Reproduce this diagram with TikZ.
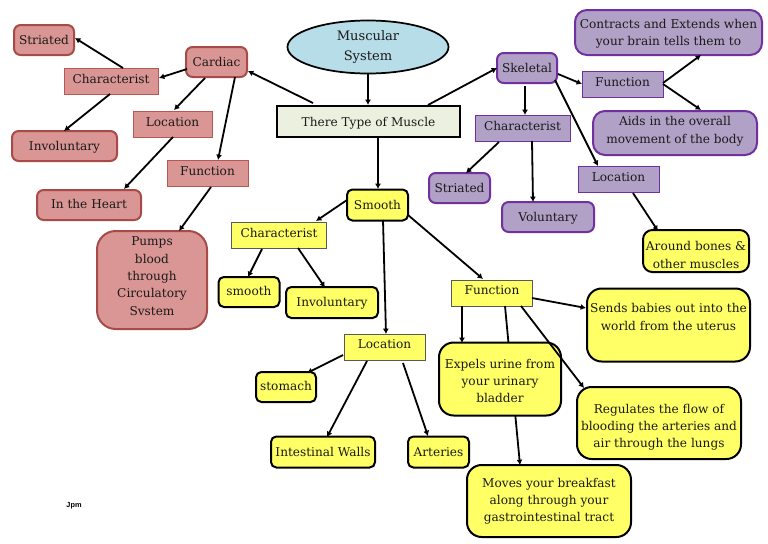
\documentclass[tikz,border=0pt]{standalone}
\usepackage{fontspec}
\setmainfont{DejaVu Serif}
\newfontfamily\jpmfont{Liberation Sans}
\usetikzlibrary{arrows.meta,shapes.geometric}
\definecolor{pinkfill}{HTML}{D99694}
\definecolor{pinkline}{HTML}{A84A48}
\definecolor{pinkthin}{HTML}{B85854}
\definecolor{purpfill}{HTML}{B2A1C7}
\definecolor{purpline}{HTML}{7030A0}
\definecolor{yellfill}{HTML}{FFFF66}
\definecolor{bluefill}{HTML}{B7DDE8}
\definecolor{palefill}{HTML}{EBF1DE}
\definecolor{inkc}{HTML}{1A1A1A}
\tikzset{
  x=0.75pt,y=-0.75pt,
  base/.style={inner sep=0pt,outer sep=0pt,text=inkc,font=\fontsize{9.1}{13}\selectfont},
  pinkrect/.style={base,draw=pinkthin,fill=pinkfill,line width=0.7pt},
  pinkround/.style={base,draw=pinkline,fill=pinkfill,line width=1.5pt,rounded corners=5pt},
  pinkbig/.style={pinkround,rounded corners=14pt},
  purprect/.style={base,draw=purpline,fill=purpfill,line width=0.5pt},
  purpround/.style={base,draw=purpline,fill=purpfill,line width=1.5pt,rounded corners=5pt},
  purpbig/.style={purpround,rounded corners=9pt},
  yellrect/.style={base,draw=black!65,fill=yellfill,line width=0.7pt},
  yellround/.style={base,draw=black,fill=yellfill,line width=1.5pt,rounded corners=4pt},
  yellbig/.style={yellround,rounded corners=11pt},
  conn/.style={draw=black,line width=1.35pt,-{Latex[length=4pt,width=4.5pt]}},
}
% name, cx, cy, w, h, style, text dx, text dy, text
\newcommand{\nb}[9]{\node[#6,minimum width=#4*0.75pt,minimum height=#5*0.75pt] (#1) at (#2,#3)
  {\raisebox{\dimexpr-#8\dimexpr0.75pt\relax-3.1pt\relax}[0pt][0pt]{\makebox[0pt]{\hspace*{\dimexpr#7\dimexpr1.5pt\relax\relax}\begin{tabular}[c]{@{}c@{}}#9\end{tabular}}}};}
\newcommand{\cn}[4]{\draw[conn] ([shift={(#2)}]#1.center) -- ([shift={(#4)}]#3.center);}
\begin{document}
\begin{tikzpicture}
\useasboundingbox[fill=white] (0,0) rectangle (768,543);
% top
\node[ellipse,draw=black,fill=bluefill,line width=1.3pt,minimum width=161*0.75pt,minimum height=53*0.75pt,inner sep=0pt,text=inkc,font=\fontsize{9.8}{15.5}\selectfont,align=center] (muscular) at (368,47) {Muscular\\System};
\nb{there}{368.5}{121}{183}{31}{base,draw=black,fill=palefill,line width=1.5pt}{0}{1}{There Type of Muscle}
% cardiac
\nb{cardiac}{216.5}{62}{61}{30}{pinkround}{0}{0}{Cardiac}
\nb{strC}{44}{40}{60}{30}{pinkround}{0}{0}{Striated}
\nb{charC}{111}{81}{94}{26}{pinkrect}{0}{-2}{Characterist}
\nb{locC}{172.5}{124}{79}{26}{pinkrect}{0}{-2}{Location}
\nb{invC}{64.5}{146}{105}{30}{pinkround}{0}{0}{Involuntary}
\nb{funC}{207.5}{173}{81}{26}{pinkrect}{0}{-2}{Function}
\nb{heart}{89}{205}{104}{30}{pinkround}{0}{-1}{In the Heart}
\nb{pumps}{152}{280}{110}{98}{pinkbig}{0}{-4}{Pumps\\blood\\through\\Circulatory\\Svstem}
% skeletal
\nb{skel}{527}{68}{60}{30}{purpround}{0}{0}{Skeletal}
\nb{contr}{668.5}{32.5}{187}{45}{purpbig}{0}{0}{Contracts and Extends when\\your brain tells them to}
\nb{funS}{622.5}{84}{81}{26}{purprect}{0}{-2}{Function}
\nb{aids}{675}{133}{164}{44}{purpbig}{0}{-3}{Aids in the overall\\movement of the body}
\nb{charS}{522.5}{128}{95}{26}{purprect}{0}{-2}{Characterist}
\nb{locS}{618.5}{179}{81}{26}{purprect}{0}{-2}{Location}
\nb{strS}{459.5}{188}{61}{30}{purpround}{0}{0}{Striated}
\nb{volS}{548}{217}{92}{30}{purpround}{0}{0}{Voluntary}
\nb{around}{696}{251}{106}{42}{yellround,rounded corners=7pt}{0}{4}{Around bones \&\\other muscles}
% smooth
\nb{smoothH}{377.5}{205}{61}{31}{yellround}{0}{0}{Smooth}
\nb{charY}{279}{235}{95}{26}{yellrect}{0}{-2}{Characterist}
\nb{smoothL}{249}{292}{61}{30}{yellround}{0}{-1}{smooth}
\nb{invY}{332}{302.5}{92}{31}{yellround}{0}{-1}{Involuntary}
\nb{locY}{384.5}{347}{81}{26}{yellrect}{0}{-3}{Location}
\nb{funY}{492}{293}{81}{26}{yellrect}{0}{-3}{Function}
\nb{stom}{286}{387}{60}{30}{yellround}{0}{-1}{stomach}
\nb{intW}{323}{452}{104}{31}{yellround}{0}{0}{Intestinal Walls}
\nb{art}{438.5}{452}{61}{31}{yellround}{0}{0}{Arteries}
\nb{sends}{668.5}{325}{163}{73}{yellbig}{0}{-8}{Sends babies out into the\\world from the uterus}
\nb{regul}{659}{423}{164}{72}{yellbig}{0}{3}{Regulates the flow of\\blooding the arteries and\\air through the lungs}
\nb{moves}{549}{501}{164}{72}{yellbig}{0}{-1}{Moves your breakfast\\along through your\\gastrointestinal tract}
\cn{funY}{13,13}{moves}{-29,-36}
\nb{expels}{500}{379}{122}{73}{yellbig}{0}{2}{Expels urine from\\your urinary\\bladder}
% connectors
\cn{there}{-55.5,-18}{cardiac}{31.5,9}
\cn{there}{59.5,-16}{skel}{-30,0}
\cn{muscular}{0,27}{there}{-0.5,-16}
\cn{there}{9.5,17}{smoothH}{0.5,-16}
\cn{cardiac}{-29.5,7}{charC}{48,-3}
\cn{charC}{12,-13}{strC}{31,-2}
\cn{charC}{-1,13}{invC}{-0.5,-15}
\cn{cardiac}{-11.5,16}{locC}{1.5,-14}
\cn{cardiac}{18.5,15}{funC}{10.5,-13}
\cn{locC}{0.5,13}{heart}{35,-16}
\cn{funC}{3.5,14}{pumps}{27,-49}
\cn{skel}{31,6}{funS}{-40.5,0}
\cn{skel}{-2,18}{charS}{2.5,-13}
\cn{skel}{28,12}{locS}{-20.5,-13}
\cn{funS}{40.5,-1}{contr}{32.5,22.5}
\cn{funS}{40.5,0}{aids}{26,-23}
\cn{charS}{-23.5,14}{strS}{6.5,-15}
\cn{charS}{9.5,13}{volS}{-15,-15}
\cn{locS}{14.5,14}{around}{-38,-20}
\cn{smoothH}{-30.5,-5}{charY}{37,-14}
\cn{smoothH}{5.5,15}{locY}{1.5,-13}
\cn{smoothH}{30.5,10}{funY}{-9,-14}
\cn{charY}{-17,14}{smoothL}{-1,-15}
\cn{charY}{19,13}{invY}{-7,-15}
\cn{locY}{-41.5,8}{stom}{21,-14}
\cn{locY}{-17.5,14}{intW}{4,-15}
\cn{locY}{18.5,16}{art}{-10.5,-16}
\cn{funY}{-30,13}{expels}{-38,-36}
\cn{funY}{29,13}{regul}{-75,-35}
\cn{funY}{40,5}{sends}{-82.5,-17}
\node[inner sep=0pt,font=\jpmfont\bfseries\fontsize{5.5}{6}\selectfont,text=black] (jpm) at (74,506) {Jpm};
\end{tikzpicture}
\end{document}
